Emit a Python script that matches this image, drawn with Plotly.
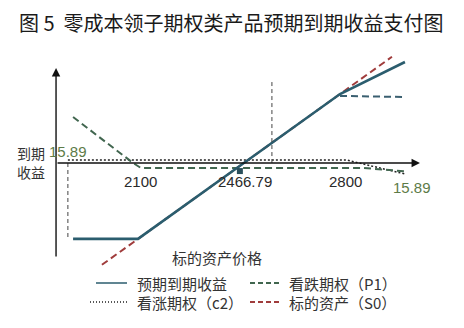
import plotly.graph_objects as go

# ---- data (price on x, payoff on y) ----
payoff_x = [1875, 2100, 2466.79, 2800, 3025]
payoff_y = [-366.79, -366.79, 0, 333.21, 488]

put_x = [1875, 2083, 2110, 2880, 3025]
put_y = [222, 0, -24, -24, -40]

put_cap_x = [2800, 3025]
put_cap_y = [324, 319]

call_x = [1857, 2824, 3025]
call_y = [14, 14, -53]

s0_x = [1975, 2980]
s0_y = [-491.79, 513.21]

tick_vals = [2100, 2466.79, 2800]
tick_text = ["2100", "2466.79", "2800"]
marker_x = [2453]
marker_y = [-39]
premium_label = "15.89"

FONT_CJK = "Noto Sans CJK SC"
FONT_NUM = "Liberation Sans"
C_BLUE = "#2b5d6e"
C_GREEN = "#41664f"
C_RED = "#a03c3c"
C_LBL = "#5d7b48"

fig = go.Figure()

fig.add_trace(go.Scatter(x=s0_x, y=s0_y, mode="lines",
                         line=dict(color=C_RED, width=2, dash="7px,4px"), showlegend=False))
fig.add_trace(go.Scatter(x=call_x, y=call_y, mode="lines",
                         line=dict(color="#222", width=1.5, dash="2px,2px"), showlegend=False))
fig.add_trace(go.Scatter(x=put_x, y=put_y, mode="lines",
                         line=dict(color=C_GREEN, width=2, dash="7px,4px"), showlegend=False))
fig.add_trace(go.Scatter(x=put_cap_x, y=put_cap_y, mode="lines",
                         line=dict(color="#3a5f70", width=2, dash="7px,4px"), showlegend=False))
fig.add_trace(go.Scatter(x=payoff_x, y=payoff_y, mode="lines",
                         line=dict(color=C_BLUE, width=2.6), showlegend=False))
fig.add_trace(go.Scatter(x=marker_x, y=marker_y, mode="markers",
                         marker=dict(symbol="square", size=6, color="#2a4f5c"), showlegend=False))

fig.add_trace(go.Scatter(x=[1857, 1857], y=[0, -362], mode="lines",
                         line=dict(color="#444", width=1, dash="4px,3px"), showlegend=False))
fig.add_trace(go.Scatter(x=[2564, 2564], y=[391, 0], mode="lines",
                         line=dict(color="#444", width=1, dash="4px,3px"), showlegend=False))

ann = []
ann.append(dict(x=1816, y=459, ax=1816, ay=-459, xref="x", yref="y", axref="x", ayref="y",
                showarrow=True, arrowhead=2, arrowsize=1.2, arrowwidth=1.4, arrowcolor="#111", text=""))
ann.append(dict(x=3077, y=0, ax=1816, ay=0, xref="x", yref="y", axref="x", ayref="y",
                showarrow=True, arrowhead=2, arrowsize=1.2, arrowwidth=1.4, arrowcolor="#111", text=""))


def txt(x, y, t, size, color, family=FONT_CJK, xa="center"):
    return dict(x=x / 464, y=1 - y / 328, xref="paper", yref="paper", xanchor=xa, yanchor="middle",
                text=t, showarrow=False, font=dict(family=family, size=size, color=color))


shifts = [2, 1, 5]
for v, t, s in zip(tick_vals, tick_text, shifts):
    ann.append(dict(x=v, y=0, xref="x", yref="y", text=t, showarrow=False, xshift=s, yshift=-18,
                    xanchor="center", yanchor="middle",
                    font=dict(family=FONT_NUM, size=15, color="#2a2a2a")))

ann.append(txt(68, 151, premium_label, 15, C_LBL, FONT_NUM))
ann.append(txt(412, 188, premium_label, 15, C_LBL, FONT_NUM))
ann.append(txt(31, 153, "到期", 14, "#333"))
ann.append(txt(31, 172, "收益", 14, "#333"))
ann.append(txt(217, 257, "标的资产价格", 15, "#333"))
ann.append(txt(17, 22, "图 5  零成本领子期权类产品预期到期收益支付图", 20, "#1a1a1a", xa="left"))

leg = [
    ("预期到期收益", 96, 127, 283, dict(color=C_BLUE, width=1.5), 135),
    ("看跌期权（P1）", 250, 280, 283, dict(color=C_GREEN, width=2, dash="5px,3px"), 287),
    ("看涨期权（c2）", 90, 128, 302, dict(color="#222", width=1.4, dash="1px,2px"), 135),
    ("标的资产（S0）", 250, 280, 302, dict(color=C_RED, width=2, dash="5px,3px"), 287),
]
shapes = []
for t, x0, x1, yy, ln, tx in leg:
    shapes.append(dict(type="line", xref="paper", yref="paper", x0=x0 / 464, x1=x1 / 464,
                       y0=1 - yy / 328, y1=1 - yy / 328, line=ln))
    ann.append(txt(tx, yy, t, 15, "#333", xa="left"))

fig.update_layout(
    width=464, height=328, autosize=False,
    margin=dict(l=0, r=0, t=0, b=0),
    paper_bgcolor="white", plot_bgcolor="white",
    xaxis=dict(range=[1621.8, 3229.6], visible=False, fixedrange=True),
    yaxis=dict(range=[-797.1, 787.4], visible=False, fixedrange=True),
    annotations=ann, shapes=shapes, showlegend=False,
)
fig.write_html("out.html", config={"displayModeBar": False})
